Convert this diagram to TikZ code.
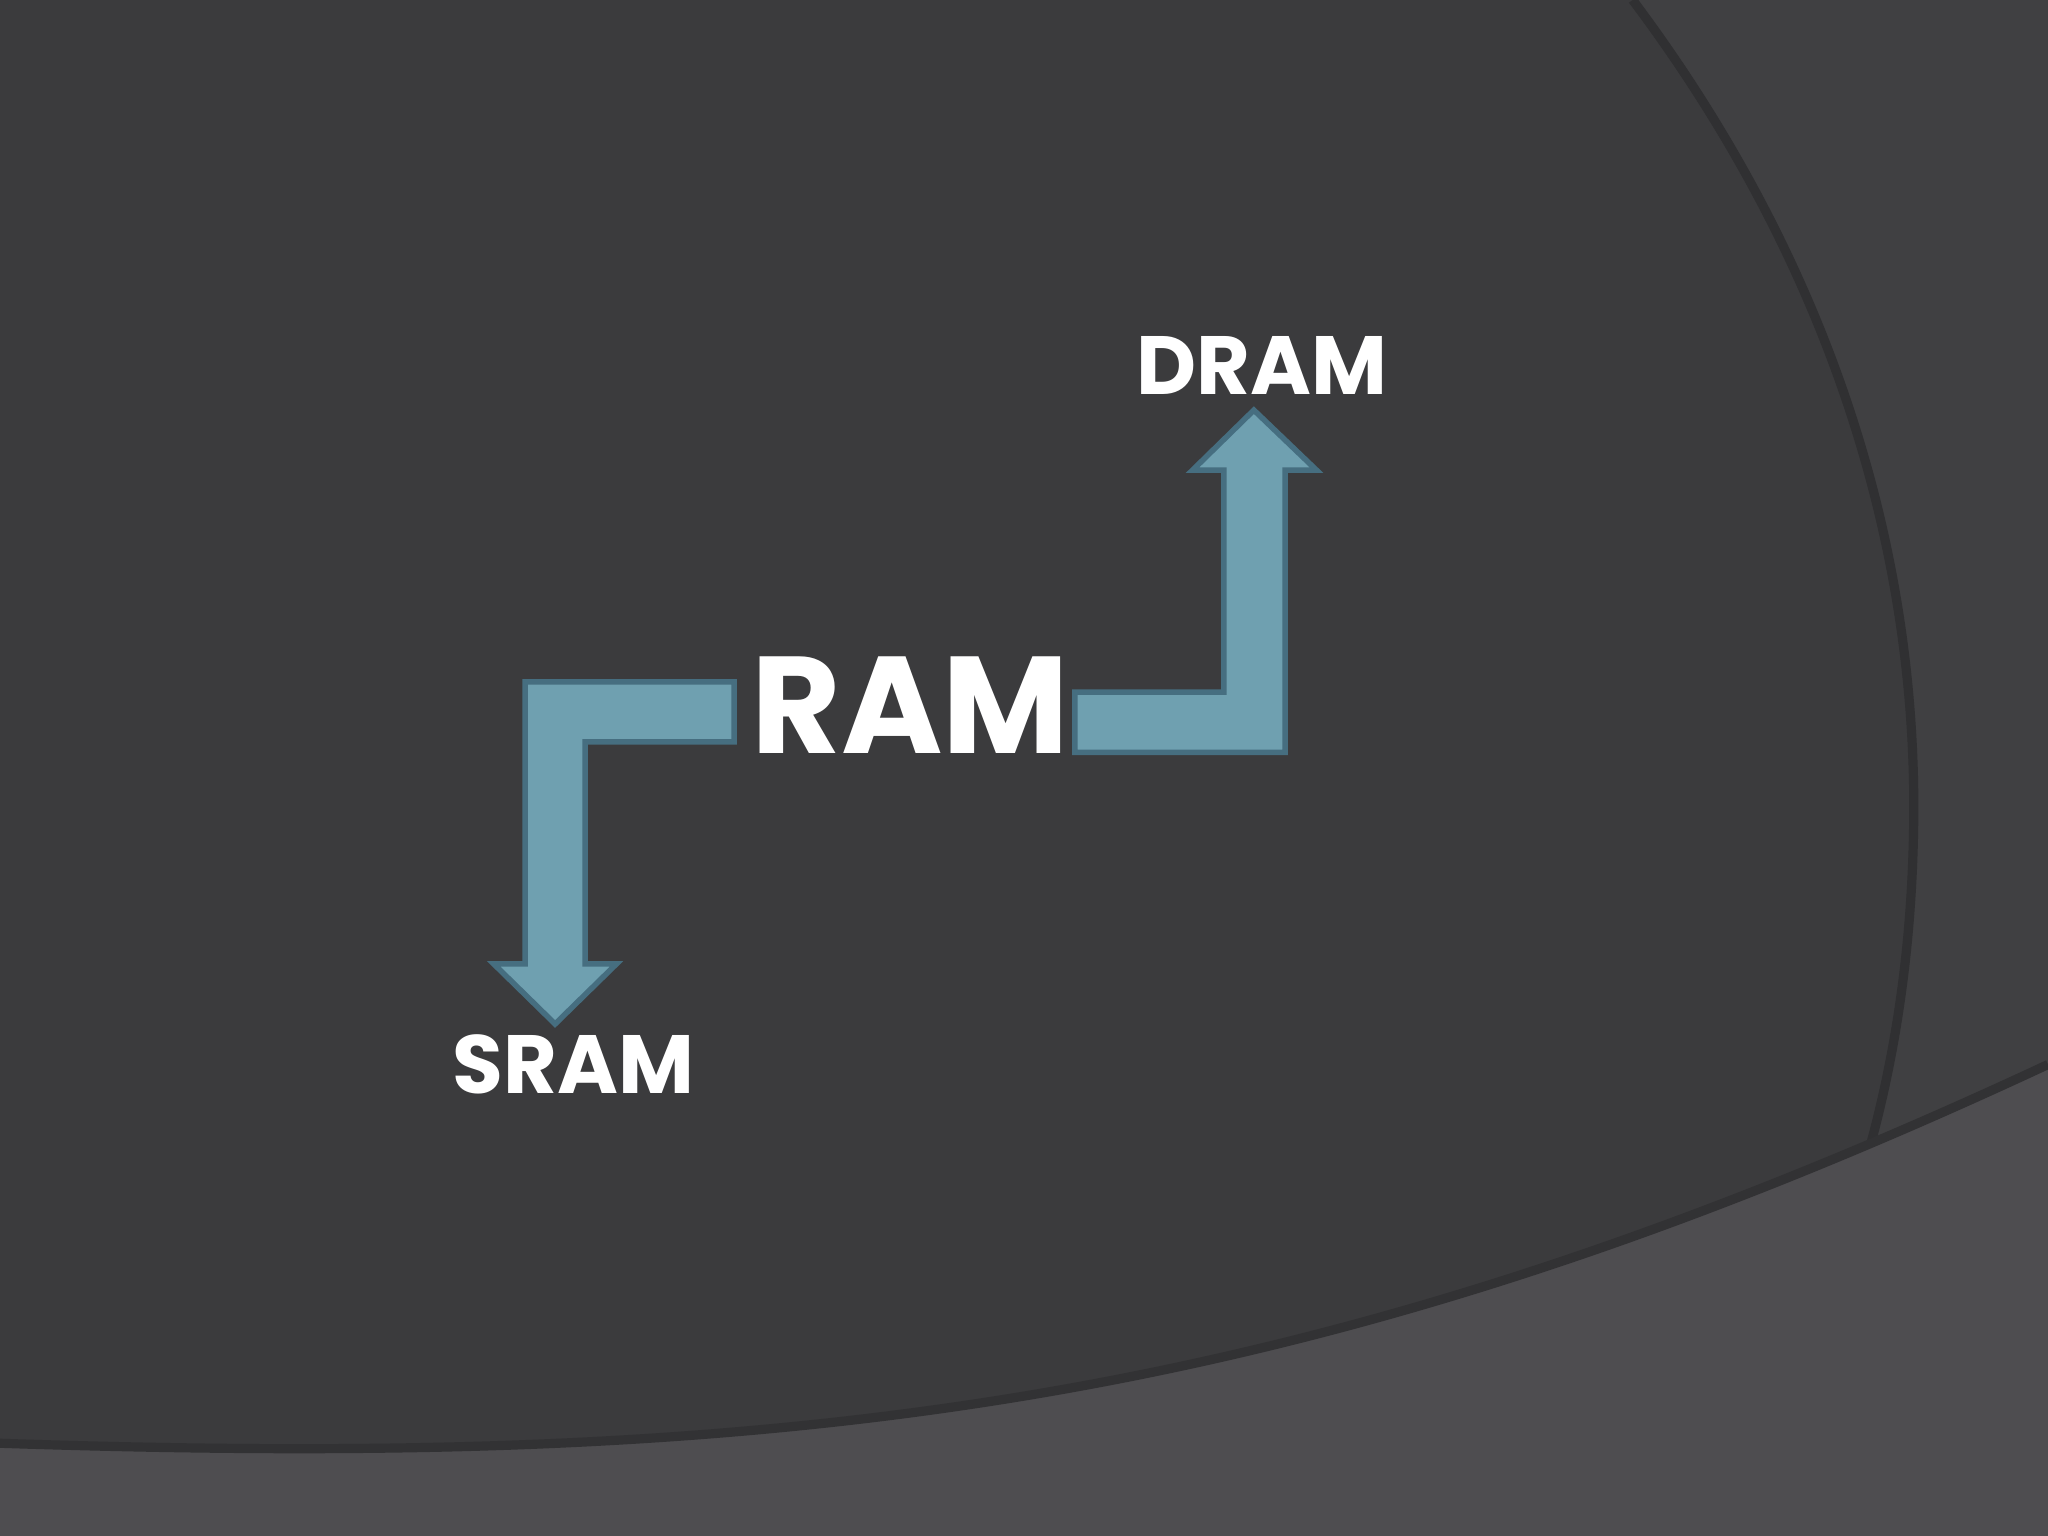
\documentclass[tikz,border=0pt]{standalone}
\usepackage{fontspec}
\setmainfont{Poppins}
\begin{document}
\begin{tikzpicture}[x=0.01cm,y=-0.01cm,
  arr/.style={fill={rgb,255:red,111;green,160;blue,176},draw={rgb,255:red,70;green,110;blue,128},line width=1.2pt},
  lbl/.style={text=white,font=\bfseries}]
\useasboundingbox (0,0) rectangle (1568,1176);
\fill[fill={rgb,255:red,59;green,59;blue,61}] (0,0) rectangle (1568,1176);
% right lighter region
\fill[fill={rgb,255:red,64;green,64;blue,66}] (1250,0) .. controls (1400,200) and (1470,420) .. (1465,640) .. controls (1460,880) and (1380,1050) .. (1280,1176) -- (1568,1176) -- (1568,0) -- cycle;
\draw[line width=2pt,draw={rgb,255:red,48;green,48;blue,50}] (1250,0) .. controls (1400,200) and (1470,420) .. (1465,640) .. controls (1460,880) and (1380,1050) .. (1280,1176);
% bottom band
\fill[fill={rgb,255:red,78;green,77;blue,80}] (0,1105) .. controls (600,1125) and (1000,1080) .. (1568,815) -- (1568,1176) -- (0,1176) -- cycle;
\draw[line width=2pt,draw={rgb,255:red,50;green,50;blue,52}] (0,1105) .. controls (600,1125) and (1000,1080) .. (1568,815);
% arrows
\draw[arr] (562,522) -- (402,522) -- (402,738) -- (378,738) -- (425,784) -- (472,738) -- (448,738) -- (448,568) -- (562,568) -- cycle;
\draw[arr] (823,530) -- (937,530) -- (937,360) -- (913,360) -- (960,314) -- (1008,360) -- (984,360) -- (984,576) -- (823,576) -- cycle;
\node[lbl,font=\bfseries\fontsize{30}{34}\selectfont] (ram) at (697,540) {RAM};
\node[lbl,font=\bfseries\fontsize{18}{20}\selectfont] (dram) at (966,280) {DRAM};
\node[lbl,font=\bfseries\fontsize{18}{20}\selectfont] (sram) at (439,815) {SRAM};
\end{tikzpicture}
\end{document}
